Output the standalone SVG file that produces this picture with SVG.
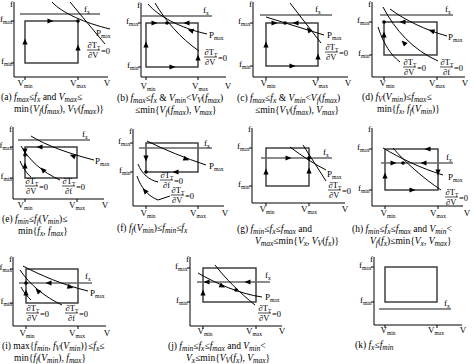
<svg xmlns="http://www.w3.org/2000/svg" xmlns:xlink="http://www.w3.org/1999/xlink" width="474" height="364" viewBox="0 0 474 364">
<style>
.ax{fill:none;stroke:#000;stroke-width:1}
.bx{fill:none;stroke:#333;stroke-width:1.4}
.fx{fill:none;stroke:#666;stroke-width:1.4}
.cv{fill:none;stroke:#000;stroke-width:1}
.fr{fill:none;stroke:#000;stroke-width:0.7}
text{font-family:"Liberation Serif","Times New Roman",serif;fill:#000}
.l{font-size:9px}
.s{font-size:5.5px}
.q{font-size:8.5px}
.qs{font-size:5.5px}
.c{font-size:9.5px}
.i{font-style:italic}
.cs{font-size:7.5px;font-style:italic}
.m{text-anchor:middle}
.e{text-anchor:end}
.dot{fill:#000}
</style>
<defs><path id="ar" d="M3.5,0L-2.5,-2.6L-2.5,2.6Z"/></defs>
<rect width="474" height="364" fill="#fff"/>

<g id="panel-a">
<path class="ax" d="M14,2V77H108M11,21H14M11,63H14M25,77V80M78,77V80"/>
<rect class="bx" x="25" y="21" width="53" height="42"/>
<path class="fx" d="M20,14H100"/>
<path class="cv" d="M52,2C62,13 85,23 110,29"/>
<path class="cv" d="M70,2L105,44"/>
<circle class="dot" cx="78" cy="21" r="1.8"/>
<use xlink:href="#ar" transform="translate(50,21)"/>
<use xlink:href="#ar" transform="translate(25,42) rotate(-90)"/>
<use xlink:href="#ar" transform="translate(78,48) rotate(-90)"/>
<text class="l e" x="13" y="7">f</text>
<text class="l e" x="12.5" y="22">f<tspan class="s" dy="1.5">max</tspan></text>
<text class="l e" x="12.5" y="64">f<tspan class="s" dy="1.5">min</tspan></text>
<text class="l" x="84" y="12">f<tspan class="s" dy="1.5">x</tspan></text>
<text class="l" x="96" y="36">P<tspan class="s" dy="1.5">max</tspan></text>
<text class="q" x="87.5" y="48">∂T<tspan class="qs" dy="1.5">T</tspan></text><path class="fr" d="M87,50h13"/><text class="q" x="88" y="58">∂V</text><text class="q" x="101" y="53.5">=0</text>
<text class="l m" x="25" y="86">V<tspan class="s" dy="1.5">min</tspan></text>
<text class="l m" x="78" y="86">V<tspan class="s" dy="1.5">max</tspan></text>
<text class="l m" x="107" y="86">V</text>
<text class="c" x="1" y="100">(a)  <tspan class="i">f</tspan><tspan class="cs" dy="1.8">max</tspan><tspan dy="-1.8">≤</tspan><tspan class="i">f</tspan><tspan class="cs" dy="1.8">x</tspan><tspan dy="-1.8"> and </tspan><tspan class="i">V</tspan><tspan class="cs" dy="1.8">max</tspan><tspan dy="-1.8">≤</tspan></text>
<text class="c" x="14" y="112">min{<tspan class="i">V</tspan><tspan class="cs" dy="1.8">f</tspan><tspan dy="-1.8">(</tspan><tspan class="i">f</tspan><tspan class="cs" dy="1.8">max</tspan><tspan dy="-1.8">), </tspan><tspan class="i">V</tspan><tspan class="cs" dy="1.8">V</tspan><tspan dy="-1.8">(</tspan><tspan class="i">f</tspan><tspan class="cs" dy="1.8">max</tspan><tspan dy="-1.8">)}</tspan></text>
</g>

<g id="panel-b">
<path class="ax" d="M141,3V77H226M138,23H141M138,67H141M146,77V80M198,77V80"/>
<rect class="bx" x="146" y="23" width="52" height="44"/>
<path class="fx" d="M141,16H212"/>
<path class="cv" d="M148,4C158,16 180,28 207,34"/>
<path class="cv" d="M155,3C165,20 180,38 199,51"/>
<circle class="dot" cx="167" cy="23" r="1.8"/>
<use xlink:href="#ar" transform="translate(154,23)"/>
<use xlink:href="#ar" transform="translate(187,23) rotate(180)"/>
<use xlink:href="#ar" transform="translate(191,30.5) rotate(-163)"/>
<use xlink:href="#ar" transform="translate(146,45) rotate(-90)"/>
<use xlink:href="#ar" transform="translate(198,58) rotate(-90)"/>
<use xlink:href="#ar" transform="translate(172,67)"/>
<text class="l e" x="140" y="8">f</text>
<text class="l e" x="138.5" y="24">f<tspan class="s" dy="1.5">max</tspan></text>
<text class="l e" x="138.5" y="68">f<tspan class="s" dy="1.5">min</tspan></text>
<text class="l" x="203" y="13">f<tspan class="s" dy="1.5">x</tspan></text>
<text class="l" x="209" y="38">P<tspan class="s" dy="1.5">max</tspan></text>
<text class="q" x="204.5" y="55">∂T<tspan class="qs" dy="1.5">T</tspan></text><path class="fr" d="M204,57h13"/><text class="q" x="205" y="65">∂V</text><text class="q" x="218" y="60.5">=0</text>
<text class="l m" x="148" y="89">V<tspan class="s" dy="1.5">min</tspan></text>
<text class="l m" x="200" y="89">V<tspan class="s" dy="1.5">max</tspan></text>
<text class="l m" x="228" y="89">V</text>
<text class="c" x="117" y="101">(b) <tspan class="i">f</tspan><tspan class="cs" dy="1.8">max</tspan><tspan dy="-1.8">≤</tspan><tspan class="i">f</tspan><tspan class="cs" dy="1.8">x</tspan><tspan dy="-1.8"> &amp; </tspan><tspan class="i">V</tspan><tspan class="cs" dy="1.8">min</tspan><tspan dy="-1.8">&lt;</tspan><tspan class="i">V</tspan><tspan class="cs" dy="1.8">V</tspan><tspan dy="-1.8">(</tspan><tspan class="i">f</tspan><tspan class="cs" dy="1.8">max</tspan><tspan dy="-1.8">)</tspan></text>
<text class="c" x="135" y="113">≤min{<tspan class="i">V</tspan><tspan class="cs" dy="1.8">f</tspan><tspan dy="-1.8">(</tspan><tspan class="i">f</tspan><tspan class="cs" dy="1.8">max</tspan><tspan dy="-1.8">), </tspan><tspan class="i">V</tspan><tspan class="cs" dy="1.8">max</tspan><tspan dy="-1.8">}</tspan></text>
</g>

<g id="panel-c">
<path class="ax" d="M253,2V77H348M250,23H253M250,66H253M266,77V80M318,77V80"/>
<rect class="bx" x="266" y="23" width="52" height="43"/>
<path class="fx" d="M260,15H332"/>
<path class="cv" d="M266,17C285,23 305,29 324,35"/>
<path class="cv" d="M290,3L321,43"/>
<circle class="dot" cx="285" cy="23" r="1.8"/>
<use xlink:href="#ar" transform="translate(274,23)"/>
<use xlink:href="#ar" transform="translate(296,23) rotate(180)"/>
<use xlink:href="#ar" transform="translate(309,30) rotate(-128)"/>
<use xlink:href="#ar" transform="translate(266,45) rotate(-90)"/>
<use xlink:href="#ar" transform="translate(318,57) rotate(-90)"/>
<use xlink:href="#ar" transform="translate(292,66)"/>
<text class="l e" x="252" y="7">f</text>
<text class="l e" x="250.5" y="24">f<tspan class="s" dy="1.5">max</tspan></text>
<text class="l e" x="250.5" y="67">f<tspan class="s" dy="1.5">min</tspan></text>
<text class="l" x="315" y="12">f<tspan class="s" dy="1.5">x</tspan></text>
<text class="l" x="327" y="38">P<tspan class="s" dy="1.5">max</tspan></text>
<text class="q" x="325.5" y="50">∂T<tspan class="qs" dy="1.5">T</tspan></text><path class="fr" d="M325,52h13"/><text class="q" x="326" y="60">∂V</text><text class="q" x="339" y="55.5">=0</text>
<text class="l m" x="268" y="86">V<tspan class="s" dy="1.5">min</tspan></text>
<text class="l m" x="320" y="86">V<tspan class="s" dy="1.5">max</tspan></text>
<text class="l m" x="348" y="86">V</text>
<text class="c" x="237" y="101">(c) <tspan class="i">f</tspan><tspan class="cs" dy="1.8">max</tspan><tspan dy="-1.8">≤</tspan><tspan class="i">f</tspan><tspan class="cs" dy="1.8">x</tspan><tspan dy="-1.8"> &amp; </tspan><tspan class="i">V</tspan><tspan class="cs" dy="1.8">min</tspan><tspan dy="-1.8">&lt;</tspan><tspan class="i">V</tspan><tspan class="cs" dy="1.8">f</tspan><tspan dy="-1.8">(</tspan><tspan class="i">f</tspan><tspan class="cs" dy="1.8">max</tspan><tspan dy="-1.8">)</tspan></text>
<text class="c" x="255" y="113">≤min{<tspan class="i">V</tspan><tspan class="cs" dy="1.8">V</tspan><tspan dy="-1.8">(</tspan><tspan class="i">f</tspan><tspan class="cs" dy="1.8">max</tspan><tspan dy="-1.8">), </tspan><tspan class="i">V</tspan><tspan class="cs" dy="1.8">max</tspan><tspan dy="-1.8">}</tspan></text>
</g>

<g id="panel-d">
<path class="ax" d="M372,2V77H465M369,22H372M369,55H372M384,77V80M437,77V80"/>
<rect class="bx" x="384" y="22" width="53" height="33"/>
<path class="fx" d="M380,15H453"/>
<path class="cv" d="M390,9C405,20 425,30 447,36"/>
<path class="cv" d="M383,7C395,30 413,50 438,61"/>
<path class="cv" d="M378,27C384,45 391,55 400,62"/>
<circle class="dot" cx="384" cy="22" r="1.8"/>
<use xlink:href="#ar" transform="translate(403,22) rotate(180)"/>
<use xlink:href="#ar" transform="translate(384,35) rotate(-90)"/>
<use xlink:href="#ar" transform="translate(404,43) rotate(-135)"/>
<use xlink:href="#ar" transform="translate(432,31) rotate(-160)"/>
<text class="l e" x="371" y="7">f</text>
<text class="l e" x="369.5" y="23">f<tspan class="s" dy="1.5">max</tspan></text>
<text class="l e" x="369.5" y="56">f<tspan class="s" dy="1.5">min</tspan></text>
<text class="l" x="445" y="12">f<tspan class="s" dy="1.5">x</tspan></text>
<text class="l" x="448" y="40">P<tspan class="s" dy="1.5">max</tspan></text>
<text class="q" x="403.5" y="65">∂T<tspan class="qs" dy="1.5">T</tspan></text><path class="fr" d="M403,67h13"/><text class="q" x="404" y="75">∂V</text><text class="q" x="417" y="70.5">=0</text>
<text class="q" x="440.5" y="65">∂T<tspan class="qs" dy="1.5">T</tspan></text><path class="fr" d="M440,67h13"/><text class="q" x="443" y="75">∂f</text><text class="q" x="454" y="70.5">=0</text>
<text class="l m" x="387" y="86">V<tspan class="s" dy="1.5">min</tspan></text>
<text class="l m" x="437" y="86">V<tspan class="s" dy="1.5">max</tspan></text>
<text class="l m" x="465" y="86">V</text>
<text class="c" x="362" y="100">(d) <tspan class="i">f</tspan><tspan class="cs" dy="1.8">V</tspan><tspan dy="-1.8">(</tspan><tspan class="i">V</tspan><tspan class="cs" dy="1.8">min</tspan><tspan dy="-1.8">)≤</tspan><tspan class="i">f</tspan><tspan class="cs" dy="1.8">max</tspan><tspan dy="-1.8">≤</tspan></text>
<text class="c" x="377" y="112">min{<tspan class="i">f</tspan><tspan class="cs" dy="1.8">x</tspan><tspan dy="-1.8">, </tspan><tspan class="i">f</tspan><tspan class="cs" dy="1.8">f</tspan><tspan dy="-1.8">(</tspan><tspan class="i">V</tspan><tspan class="cs" dy="1.8">min</tspan><tspan dy="-1.8">)}</tspan></text>
</g>

<g id="panel-e">
<path class="ax" d="M13,127V199H104M10,147H13M10,178H13M25,199V202M77,199V202"/>
<rect class="bx" x="25" y="147" width="52" height="31"/>
<path class="fx" d="M18,140H90"/>
<path class="cv" d="M31,136C45,145 70,154 94,160"/>
<path class="cv" d="M21,146C29,160 42,172 60,180"/>
<path class="cv" d="M20,161C23,168 27,174 31,177"/>
<circle class="dot" cx="25" cy="155" r="1.8"/>
<use xlink:href="#ar" transform="translate(40,147) rotate(180)"/>
<use xlink:href="#ar" transform="translate(25,151) rotate(90)"/>
<use xlink:href="#ar" transform="translate(25,166) rotate(-90)"/>
<use xlink:href="#ar" transform="translate(43,170) rotate(-135)"/>
<use xlink:href="#ar" transform="translate(73,156) rotate(-160)"/>
<text class="l e" x="12" y="132">f</text>
<text class="l e" x="12" y="148">f<tspan class="s" dy="1.5">max</tspan></text>
<text class="l e" x="12" y="179">f<tspan class="s" dy="1.5">min</tspan></text>
<text class="l" x="82" y="137">f<tspan class="s" dy="1.5">x</tspan></text>
<text class="l" x="95" y="164">P<tspan class="s" dy="1.5">max</tspan></text>
<text class="q" x="25.5" y="184">∂T<tspan class="qs" dy="1.5">T</tspan></text><path class="fr" d="M25,186h13"/><text class="q" x="26" y="194">∂V</text><text class="q" x="39" y="189.5">=0</text>
<text class="q" x="62.5" y="184">∂T<tspan class="qs" dy="1.5">T</tspan></text><path class="fr" d="M62,186h13"/><text class="q" x="65" y="194">∂f</text><text class="q" x="76" y="189.5">=0</text>
<text class="l m" x="25" y="208">V<tspan class="s" dy="1.5">min</tspan></text>
<text class="l m" x="77" y="208">V<tspan class="s" dy="1.5">max</tspan></text>
<text class="l m" x="105" y="208">V</text>
<text class="c" x="2" y="222">(e) <tspan class="i">f</tspan><tspan class="cs" dy="1.8">min</tspan><tspan dy="-1.8">≤</tspan><tspan class="i">f</tspan><tspan class="cs" dy="1.8">f</tspan><tspan dy="-1.8">(</tspan><tspan class="i">V</tspan><tspan class="cs" dy="1.8">min</tspan><tspan dy="-1.8">)≤</tspan></text>
<text class="c" x="18" y="234">min{<tspan class="i">f</tspan><tspan class="cs" dy="1.8">x</tspan><tspan dy="-1.8">, </tspan><tspan class="i">f</tspan><tspan class="cs" dy="1.8">max</tspan><tspan dy="-1.8">}</tspan></text>
</g>

<g id="panel-f">
<path class="ax" d="M133,129V206H224M130,143H133M130,172H133M146,206V209M198,206V209"/>
<rect class="bx" x="146" y="143" width="52" height="29"/>
<path class="fx" d="M139,148H212"/>
<path class="cv" d="M147,141C165,150 185,158 206,165"/>
<path class="cv" d="M138,164C142,174 149,180 158,182"/>
<path class="cv" d="M137,176C141,188 148,196 158,200L170,196"/>
<circle class="dot" cx="146" cy="172" r="1.8"/>
<use xlink:href="#ar" transform="translate(146,158) rotate(90)"/>
<use xlink:href="#ar" transform="translate(176,172) rotate(180)"/>
<use xlink:href="#ar" transform="translate(186,159) rotate(20)"/>
<use xlink:href="#ar" transform="translate(145,191) rotate(-131)"/>
<text class="l e" x="132" y="134">f</text>
<text class="l e" x="130.5" y="144">f<tspan class="s" dy="1.5">max</tspan></text>
<text class="l e" x="130.5" y="173">f<tspan class="s" dy="1.5">min</tspan></text>
<text class="l" x="204" y="146">f<tspan class="s" dy="1.5">x</tspan></text>
<text class="l" x="209" y="169">P<tspan class="s" dy="1.5">max</tspan></text>
<text class="q" x="160.5" y="178">∂T<tspan class="qs" dy="1.5">T</tspan></text><path class="fr" d="M160,180h13"/><text class="q" x="163" y="188">∂f</text><text class="q" x="174" y="183.5">=0</text>
<text class="q" x="171.5" y="193">∂T<tspan class="qs" dy="1.5">T</tspan></text><path class="fr" d="M171,195h13"/><text class="q" x="172" y="203">∂V</text><text class="q" x="185" y="198.5">=0</text>
<text class="l m" x="148" y="216">V<tspan class="s" dy="1.5">min</tspan></text>
<text class="l m" x="198" y="216">V<tspan class="s" dy="1.5">max</tspan></text>
<text class="l m" x="225" y="216">V</text>
<text class="c" x="117" y="231">(f) <tspan class="i">f</tspan><tspan class="cs" dy="1.8">f</tspan><tspan dy="-1.8">(</tspan><tspan class="i">V</tspan><tspan class="cs" dy="1.8">min</tspan><tspan dy="-1.8">)≤</tspan><tspan class="i">f</tspan><tspan class="cs" dy="1.8">min</tspan><tspan dy="-1.8">≤</tspan><tspan class="i">f</tspan><tspan class="cs" dy="1.8">x</tspan></text>
</g>

<g id="panel-g">
<path class="ax" d="M252,128V203H345M249,148H252M249,186H252M266,203V206M309,203V206"/>
<rect class="bx" x="266" y="148" width="43" height="38"/>
<path class="fx" d="M261,158H332"/>
<path class="cv" d="M290,147C302,156 314,164 326,170"/>
<path class="cv" d="M303,145L326,181"/>
<circle class="dot" cx="309" cy="158" r="1.8"/>
<use xlink:href="#ar" transform="translate(288,158)"/>
<use xlink:href="#ar" transform="translate(309,171) rotate(-90)"/>
<use xlink:href="#ar" transform="translate(266,172) rotate(-90)"/>
<text class="l e" x="251" y="132">f</text>
<text class="l e" x="249.5" y="149">f<tspan class="s" dy="1.5">max</tspan></text>
<text class="l e" x="249.5" y="187">f<tspan class="s" dy="1.5">min</tspan></text>
<text class="l" x="323" y="155">f<tspan class="s" dy="1.5">x</tspan></text>
<text class="l" x="327" y="177">P<tspan class="s" dy="1.5">max</tspan></text>
<text class="q" x="328.5" y="188">∂T<tspan class="qs" dy="1.5">T</tspan></text><path class="fr" d="M328,190h13"/><text class="q" x="329" y="198">∂V</text><text class="q" x="342" y="193.5">=0</text>
<text class="l m" x="267" y="212">V<tspan class="s" dy="1.5">min</tspan></text>
<text class="l m" x="309" y="212">V<tspan class="s" dy="1.5">max</tspan></text>
<text class="l m" x="345" y="212">V</text>
<text class="c" x="237" y="232">(g) <tspan class="i">f</tspan><tspan class="cs" dy="1.8">min</tspan><tspan dy="-1.8">≤</tspan><tspan class="i">f</tspan><tspan class="cs" dy="1.8">x</tspan><tspan dy="-1.8">≤</tspan><tspan class="i">f</tspan><tspan class="cs" dy="1.8">max</tspan><tspan dy="-1.8"> and</tspan></text>
<text class="c" x="255" y="244"><tspan class="i">V</tspan><tspan class="cs" dy="1.8">max</tspan><tspan dy="-1.8">≤min{</tspan><tspan class="i">V</tspan><tspan class="cs" dy="1.8">x</tspan><tspan dy="-1.8">, </tspan><tspan class="i">V</tspan><tspan class="cs" dy="1.8">V</tspan><tspan dy="-1.8">(</tspan><tspan class="i">f</tspan><tspan class="cs" dy="1.8">x</tspan><tspan dy="-1.8">)}</tspan></text>
</g>

<g id="panel-h">
<path class="ax" d="M372,128V206H463M369,149H372M369,190H372M385,206V209M438,206V209"/>
<rect class="bx" x="385" y="149" width="53" height="41"/>
<path class="fx" d="M381,163H453"/>
<path class="cv" d="M383,148C400,158 420,168 443,175"/>
<path class="cv" d="M393,148C405,162 423,178 441,190"/>
<circle class="dot" cx="403" cy="163" r="1.8"/>
<use xlink:href="#ar" transform="translate(393,163)"/>
<use xlink:href="#ar" transform="translate(424,163) rotate(180)"/>
<use xlink:href="#ar" transform="translate(428,149) rotate(180)"/>
<use xlink:href="#ar" transform="translate(438,172) rotate(90)"/>
<use xlink:href="#ar" transform="translate(385,176) rotate(-90)"/>
<use xlink:href="#ar" transform="translate(412,190)"/>
<text class="l e" x="371" y="132">f</text>
<text class="l e" x="369.5" y="150">f<tspan class="s" dy="1.5">max</tspan></text>
<text class="l e" x="369.5" y="191">f<tspan class="s" dy="1.5">min</tspan></text>
<text class="l" x="446" y="160">f<tspan class="s" dy="1.5">x</tspan></text>
<text class="l" x="448" y="180">P<tspan class="s" dy="1.5">max</tspan></text>
<text class="q" x="445.5" y="195">∂T<tspan class="qs" dy="1.5">T</tspan></text><path class="fr" d="M445,197h13"/><text class="q" x="446" y="205">∂V</text><text class="q" x="459" y="200.5">=0</text>
<text class="l m" x="388" y="216">V<tspan class="s" dy="1.5">min</tspan></text>
<text class="l m" x="438" y="216">V<tspan class="s" dy="1.5">max</tspan></text>
<text class="l m" x="467" y="216">V</text>
<text class="c" x="352" y="232">(h) <tspan class="i">f</tspan><tspan class="cs" dy="1.8">min</tspan><tspan dy="-1.8">≤</tspan><tspan class="i">f</tspan><tspan class="cs" dy="1.8">x</tspan><tspan dy="-1.8">≤</tspan><tspan class="i">f</tspan><tspan class="cs" dy="1.8">max</tspan><tspan dy="-1.8"> and </tspan><tspan class="i">V</tspan><tspan class="cs" dy="1.8">min</tspan><tspan dy="-1.8">&lt;</tspan></text>
<text class="c" x="370" y="244"><tspan class="i">V</tspan><tspan class="cs" dy="1.8">f</tspan><tspan dy="-1.8">(</tspan><tspan class="i">f</tspan><tspan class="cs" dy="1.8">x</tspan><tspan dy="-1.8">)≤min{</tspan><tspan class="i">V</tspan><tspan class="cs" dy="1.8">x</tspan><tspan dy="-1.8">, </tspan><tspan class="i">V</tspan><tspan class="cs" dy="1.8">max</tspan><tspan dy="-1.8">}</tspan></text>
</g>

<g id="panel-i">
<path class="ax" d="M13,257V326H106M10,269H13M10,303H13M26,326V329M78,326V329"/>
<rect class="bx" x="26" y="269" width="52" height="34"/>
<path class="fx" d="M19,283H92"/>
<path class="cv" d="M23,266C40,275 63,285 88,291"/>
<path class="cv" d="M20,270C30,285 45,297 62,305"/>
<path class="cv" d="M21,287C24,293 28,297 31,300"/>
<circle class="dot" cx="26" cy="283" r="1.8"/>
<use xlink:href="#ar" transform="translate(49,283) rotate(180)"/>
<use xlink:href="#ar" transform="translate(70,287) rotate(18)"/>
<use xlink:href="#ar" transform="translate(26,293) rotate(-90)"/>
<use xlink:href="#ar" transform="translate(38,291) rotate(-135)"/>
<text class="l e" x="12" y="262">f</text>
<text class="l e" x="12" y="270">f<tspan class="s" dy="1.5">max</tspan></text>
<text class="l e" x="12" y="304">f<tspan class="s" dy="1.5">min</tspan></text>
<text class="l" x="85" y="279">f<tspan class="s" dy="1.5">x</tspan></text>
<text class="l" x="90" y="296">P<tspan class="s" dy="1.5">max</tspan></text>
<text class="q" x="26.5" y="311">∂T<tspan class="qs" dy="1.5">T</tspan></text><path class="fr" d="M26,313h13"/><text class="q" x="27" y="321">∂V</text><text class="q" x="40" y="316.5">=0</text>
<text class="q" x="65.5" y="311">∂T<tspan class="qs" dy="1.5">T</tspan></text><path class="fr" d="M65,313h13"/><text class="q" x="68" y="321">∂f</text><text class="q" x="79" y="316.5">=0</text>
<text class="l m" x="27" y="336">V<tspan class="s" dy="1.5">min</tspan></text>
<text class="l m" x="77" y="336">V<tspan class="s" dy="1.5">max</tspan></text>
<text class="l m" x="107" y="336">V</text>
<text class="c" x="2" y="349">(i) max{<tspan class="i">f</tspan><tspan class="cs" dy="1.8">min</tspan><tspan dy="-1.8">, </tspan><tspan class="i">f</tspan><tspan class="cs" dy="1.8">V</tspan><tspan dy="-1.8">(</tspan><tspan class="i">V</tspan><tspan class="cs" dy="1.8">min</tspan><tspan dy="-1.8">)}≤</tspan><tspan class="i">f</tspan><tspan class="cs" dy="1.8">x</tspan><tspan dy="-1.8">≤</tspan></text>
<text class="c" x="14" y="361">min{<tspan class="i">f</tspan><tspan class="cs" dy="1.8">f</tspan><tspan dy="-1.8">(</tspan><tspan class="i">V</tspan><tspan class="cs" dy="1.8">min</tspan><tspan dy="-1.8">), </tspan><tspan class="i">f</tspan><tspan class="cs" dy="1.8">max</tspan><tspan dy="-1.8">}</tspan></text>
</g>

<g id="panel-j">
<path class="ax" d="M190,257V326H282M187,268H190M187,302H190M203,326V329M256,326V329"/>
<rect class="bx" x="203" y="268" width="53" height="34"/>
<path class="fx" d="M197,282H270"/>
<path class="cv" d="M198,273C215,283 240,294 262,297"/>
<path class="cv" d="M215,265C225,278 240,293 255,305"/>
<circle class="dot" cx="236" cy="290" r="1.8"/>
<use xlink:href="#ar" transform="translate(207,282) rotate(180)"/>
<use xlink:href="#ar" transform="translate(222,286) rotate(25)"/>
<use xlink:href="#ar" transform="translate(248,282) rotate(180)"/>
<use xlink:href="#ar" transform="translate(203,293) rotate(-90)"/>
<text class="l e" x="189" y="262">f</text>
<text class="l e" x="187.5" y="269">f<tspan class="s" dy="1.5">max</tspan></text>
<text class="l e" x="187.5" y="303">f<tspan class="s" dy="1.5">min</tspan></text>
<text class="l" x="265" y="278">f<tspan class="s" dy="1.5">x</tspan></text>
<text class="l" x="265" y="300">P<tspan class="s" dy="1.5">max</tspan></text>
<text class="q" x="258.5" y="311">∂T<tspan class="qs" dy="1.5">T</tspan></text><path class="fr" d="M258,313h13"/><text class="q" x="259" y="321">∂V</text><text class="q" x="272" y="316.5">=0</text>
<text class="l m" x="205" y="334">V<tspan class="s" dy="1.5">min</tspan></text>
<text class="l m" x="254" y="334">V<tspan class="s" dy="1.5">max</tspan></text>
<text class="l m" x="282" y="334">V</text>
<text class="c" x="168" y="349">(j) <tspan class="i">f</tspan><tspan class="cs" dy="1.8">min</tspan><tspan dy="-1.8">≤</tspan><tspan class="i">f</tspan><tspan class="cs" dy="1.8">x</tspan><tspan dy="-1.8">≤</tspan><tspan class="i">f</tspan><tspan class="cs" dy="1.8">max</tspan><tspan dy="-1.8"> and </tspan><tspan class="i">V</tspan><tspan class="cs" dy="1.8">min</tspan><tspan dy="-1.8">&lt;</tspan></text>
<text class="c" x="186" y="361"><tspan class="i">V</tspan><tspan class="cs" dy="1.8">x</tspan><tspan dy="-1.8">≤min{</tspan><tspan class="i">V</tspan><tspan class="cs" dy="1.8">V</tspan><tspan dy="-1.8">(</tspan><tspan class="i">f</tspan><tspan class="cs" dy="1.8">x</tspan><tspan dy="-1.8">), </tspan><tspan class="i">V</tspan><tspan class="cs" dy="1.8">max</tspan><tspan dy="-1.8">}</tspan></text>
</g>

<g id="panel-k">
<path class="ax" d="M374,257V325H462M371,267H374M371,302H374M385,325V328M437,325V328"/>
<rect class="bx" x="385" y="267" width="52" height="35"/>
<path class="fx" d="M379,309H451"/>
<text class="l e" x="373" y="262">f</text>
<text class="l e" x="371.5" y="268">f<tspan class="s" dy="1.5">max</tspan></text>
<text class="l e" x="371.5" y="303">f<tspan class="s" dy="1.5">min</tspan></text>
<text class="l" x="444" y="306">f<tspan class="s" dy="1.5">x</tspan></text>
<text class="l m" x="388" y="333">V<tspan class="s" dy="1.5">min</tspan></text>
<text class="l m" x="436" y="333">V<tspan class="s" dy="1.5">max</tspan></text>
<text class="l m" x="463" y="333">V</text>
<text class="c" x="355" y="348">(k) <tspan class="i">f</tspan><tspan class="cs" dy="1.8">x</tspan><tspan dy="-1.8">≤</tspan><tspan class="i">f</tspan><tspan class="cs" dy="1.8">min</tspan></text>
</g>
</svg>
